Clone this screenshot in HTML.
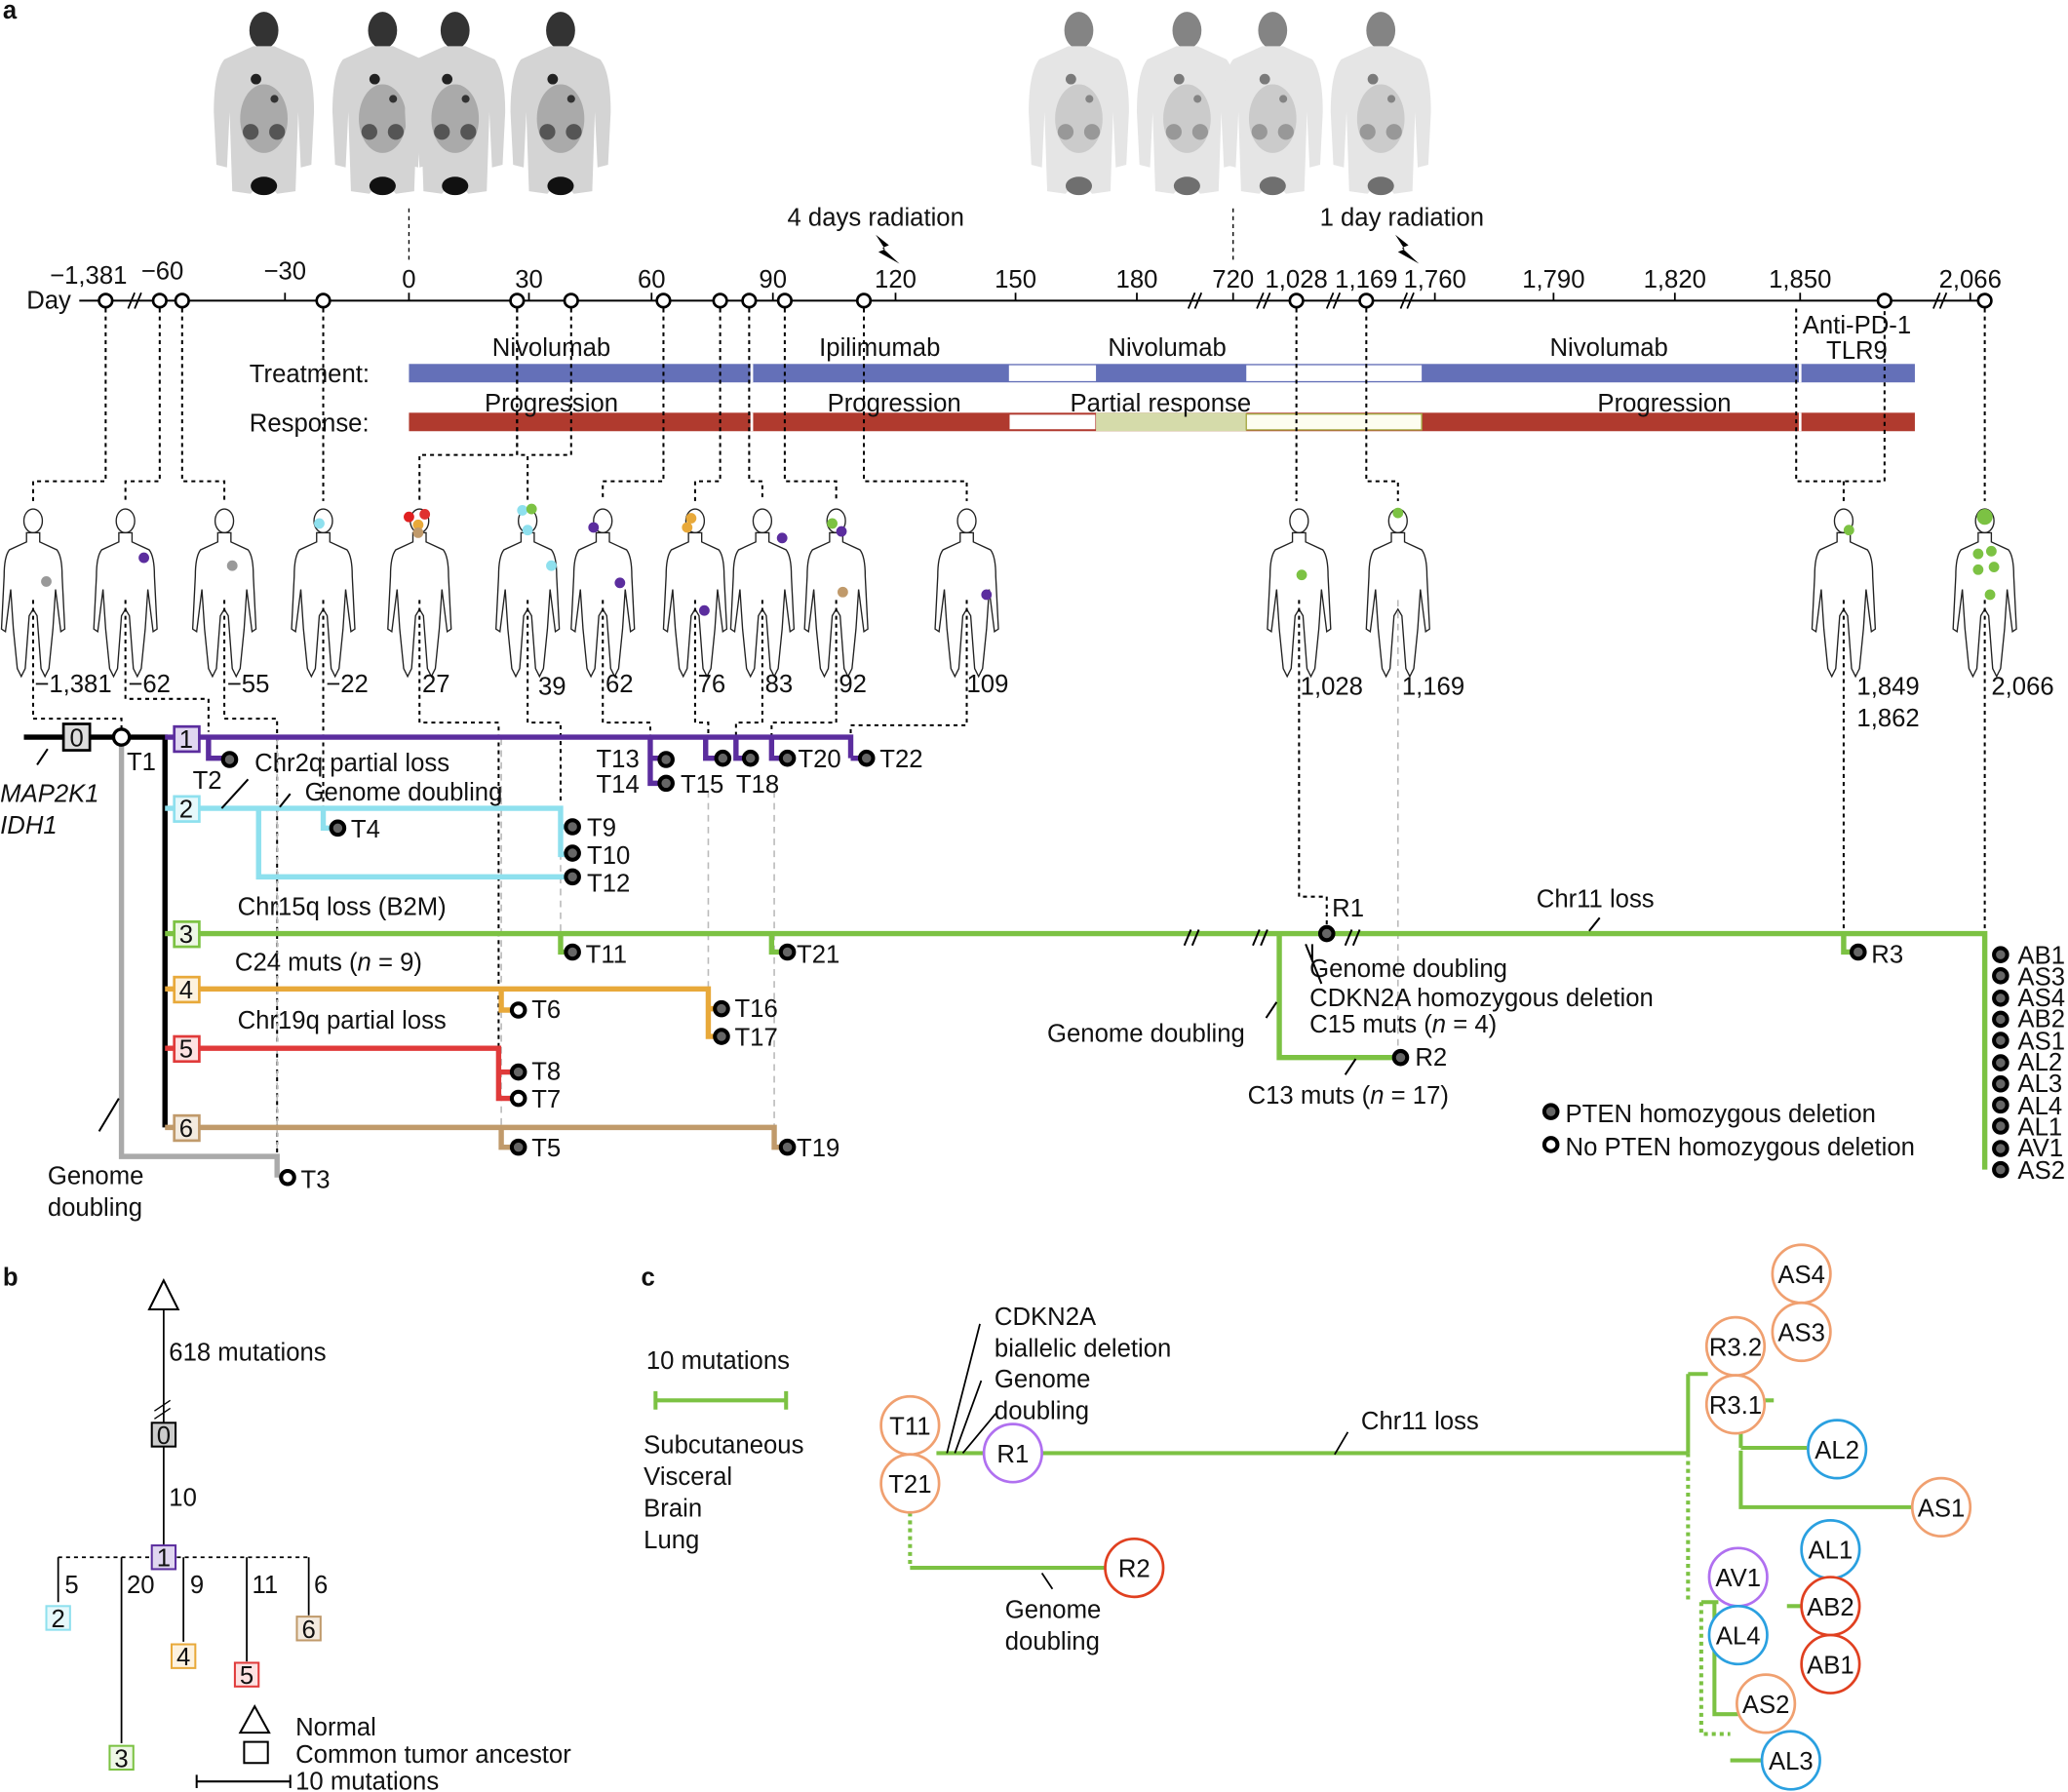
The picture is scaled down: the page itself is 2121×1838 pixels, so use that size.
<!DOCTYPE html>
<html><head><meta charset="utf-8"><style>
html,body{margin:0;padding:0;background:#fff}
svg{display:block}
text{font-family:"Liberation Sans",sans-serif;font-size:19px;fill:#111}
</style></head><body>
<svg width="2121" height="1838" viewBox="0 0 1568 1359" xmlns="http://www.w3.org/2000/svg">
<defs>
<g id="body" fill="#fff" stroke="#222" stroke-width="1">
<ellipse cx="0" cy="-112" rx="7" ry="9"/>
<path d="M-5,-103 L-5,-96 L-18,-90 Q-22,-85 -22,-70 L-24,-30 L-21,-28 L-17,-60 L-15,-30 L-12,0 L-9,6 L-6,0 L-3,-40 L0,-45 L3,-40 L6,0 L9,6 L12,0 L15,-30 L17,-60 L21,-28 L24,-30 L22,-70 Q22,-85 18,-90 L5,-96 L5,-103 Z"/>
</g>
<g id="pet">
<ellipse cx="0" cy="-52" rx="11" ry="14" fill="#333"/>
<path d="M-8,-40 L-30,-30 Q-38,-20 -38,10 L-36,50 L-28,52 L-26,10 L-24,70 L-10,72 L0,60 L10,72 L24,70 L26,10 L28,52 L36,50 L38,10 Q38,-20 30,-30 L8,-40 Z" fill="#d4d4d4"/>
<ellipse cx="0" cy="15" rx="18" ry="26" fill="#aaa"/>
<circle cx="-10" cy="25" r="6" fill="#555"/><circle cx="10" cy="25" r="6" fill="#555"/>
<circle cx="-6" cy="-15" r="4" fill="#222"/><circle cx="8" cy="0" r="3" fill="#333"/>
<ellipse cx="0" cy="66" rx="10" ry="7" fill="#111"/>
</g>
</defs>
<text x="2" y="14" font-weight="bold">a</text>
<g>
<use href="#pet" x="200" y="75"/><use href="#pet" x="290" y="75"/><use href="#pet" x="345" y="75"/><use href="#pet" x="425" y="75"/>
</g>
<g opacity="0.6">
<use href="#pet" x="818" y="75"/><use href="#pet" x="900" y="75"/><use href="#pet" x="965" y="75"/><use href="#pet" x="1047" y="75"/>
</g>
<path d="M310,158 V200 M935,158 V200" stroke="#000" stroke-dasharray="3,3" fill="none"/>
<line x1="60" y1="228" x2="1510" y2="228" stroke="#000" stroke-width="1.5"/>
<g fill="#fff" stroke="#000" stroke-width="2">
<circle cx="80" cy="228" r="5"/><circle cx="121" cy="228" r="5"/><circle cx="138" cy="228" r="5"/><circle cx="245" cy="228" r="5"/><circle cx="392" cy="228" r="5"/><circle cx="433" cy="228" r="5"/><circle cx="503" cy="228" r="5"/><circle cx="546" cy="228" r="5"/><circle cx="568" cy="228" r="5"/><circle cx="595" cy="228" r="5"/><circle cx="655" cy="228" r="5"/><circle cx="983" cy="228" r="5"/><circle cx="1036" cy="228" r="5"/><circle cx="1429" cy="228" r="5"/><circle cx="1505" cy="228" r="5"/>
</g>
<g stroke="#000" stroke-width="1.3" fill="none">
<path d="M97,234 l5,-12 M102,234 l5,-12 M901,234 l5,-12 M906,234 l5,-12 M953,234 l5,-12 M958,234 l5,-12 M1006,234 l5,-12 M1011,234 l5,-12 M1062,234 l5,-12 M1067,234 l5,-12 M1466,234 l5,-12 M1471,234 l5,-12"/>
<path d="M310,228v-6 M401,228v-6 M494,228v-6 M586,228v-6 M679,228v-6 M770,228v-6 M862,228v-6 M935,228v-6 M1088,228v-6 M1178,228v-6 M1270,228v-6 M1365,228v-6 M1494,228v-6 M216,228v-6"/>
</g>
<text x="20" y="234">Day</text>
<g text-anchor="middle">
<text x="67" y="215">−1,381</text><text x="123" y="212">−60</text><text x="216" y="212">−30</text><text x="310" y="218">0</text><text x="401" y="218">30</text><text x="494" y="218">60</text><text x="586" y="218">90</text><text x="679" y="218">120</text><text x="770" y="218">150</text><text x="862" y="218">180</text><text x="935" y="218">720</text><text x="983" y="218">1,028</text><text x="1036" y="218">1,169</text><text x="1088" y="218">1,760</text><text x="1178" y="218">1,790</text><text x="1270" y="218">1,820</text><text x="1365" y="218">1,850</text><text x="1494" y="218">2,066</text>
<text x="664" y="171">4 days radiation</text><text x="1063" y="171">1 day radiation</text>
</g>
<path d="M664,178 l10,8 -5,2 13,12 -16,-9 5,-2 z M1058,178 l10,8 -5,2 13,12 -16,-9 5,-2 z" fill="#000"/>
<text x="189" y="290">Treatment:</text><text x="189" y="327">Response:</text>
<rect x="310" y="276" width="1142" height="14" fill="#6470b8"/>
<rect x="765" y="277" width="66" height="12" fill="#fff"/><rect x="945" y="277" width="133" height="12" fill="#fff"/>
<path d="M570,276v14 M1365,276v14" stroke="#fff" stroke-width="2"/>
<rect x="310" y="313" width="1142" height="14" fill="#b03a2e"/>
<rect x="765" y="314" width="66" height="12" fill="#fff" stroke="#b03a2e"/>
<rect x="831" y="313" width="114" height="14" fill="#d5dbaa"/>
<rect x="945" y="314" width="133" height="12" fill="#fdfdf0" stroke="#a5a842"/>
<path d="M570,313v14 M1365,313v14" stroke="#fff" stroke-width="2"/>
<g text-anchor="middle">
<text x="418" y="270">Nivolumab</text><text x="667" y="270">Ipilimumab</text><text x="885" y="270">Nivolumab</text><text x="1220" y="270">Nivolumab</text><text x="1408" y="253">Anti-PD-1</text><text x="1408" y="272">TLR9</text>
<text x="418" y="312">Progression</text><text x="678" y="312">Progression</text><text x="880" y="312">Partial response</text><text x="1262" y="312">Progression</text>
</g>
<g stroke="#000" stroke-width="1.5" stroke-dasharray="3,3" fill="none">
<path d="M80,234 V365 H25 V380"/><path d="M121,234 V365 H95 V380"/><path d="M138,234 V365 H170 V380"/><path d="M245,234 V380"/>
<path d="M392,234 V345 H318 V380"/><path d="M392,234 V345 H400 V380"/><path d="M433,234 V345 H400"/><path d="M503,234 V365 H457 V380"/><path d="M546,234 V365 H527 V380"/><path d="M568,234 V365 H578 V380"/><path d="M595,234 V365 H634 V380"/><path d="M655,234 V365 H733 V380"/>
<path d="M983,234 V380"/><path d="M1036,234 V365 H1060 V380"/><path d="M1362,234 V365 H1429 V234 M1398,365 V380"/><path d="M1505,234 V380"/>
</g>
<g>
<use href="#body" x="25" y="507"/><use href="#body" x="95" y="507"/><use href="#body" x="170" y="507"/><use href="#body" x="245" y="507"/><use href="#body" x="318" y="507"/><use href="#body" x="400" y="507"/><use href="#body" x="457" y="507"/><use href="#body" x="527" y="507"/><use href="#body" x="578" y="507"/><use href="#body" x="634" y="507"/><use href="#body" x="733" y="507"/><use href="#body" x="985" y="507"/><use href="#body" x="1060" y="507"/><use href="#body" x="1398" y="507"/><use href="#body" x="1505" y="507"/>
</g>
<g>
<circle cx="35" cy="441" r="4" fill="#999"/><circle cx="109" cy="423" r="4" fill="#5b2d9e"/><circle cx="176" cy="429" r="4" fill="#999"/><circle cx="242" cy="397" r="4" fill="#8ee0ee"/>
<circle cx="310" cy="392" r="4" fill="#e02020"/><circle cx="322" cy="390" r="4" fill="#e03030"/><circle cx="317" cy="398" r="4" fill="#e8a93a"/><circle cx="317" cy="404" r="4" fill="#c09a6b"/>
<circle cx="396" cy="387" r="4" fill="#8ee0ee"/><circle cx="403" cy="386" r="4" fill="#7cc243"/><circle cx="400" cy="402" r="4" fill="#8ee0ee"/><circle cx="418" cy="429" r="4" fill="#8ee0ee"/>
<circle cx="450" cy="400" r="4" fill="#5b2d9e"/><circle cx="470" cy="442" r="4" fill="#5b2d9e"/><circle cx="521" cy="400" r="4" fill="#e8a93a"/><circle cx="524" cy="393" r="4" fill="#e8a93a"/><circle cx="534" cy="463" r="4" fill="#5b2d9e"/>
<circle cx="593" cy="408" r="4" fill="#5b2d9e"/><circle cx="631" cy="397" r="4" fill="#7cc243"/><circle cx="638" cy="403" r="4" fill="#5b2d9e"/><circle cx="639" cy="449" r="4" fill="#c09a6b"/><circle cx="748" cy="451" r="4" fill="#5b2d9e"/>
<circle cx="987" cy="436" r="4" fill="#7cc243"/><circle cx="1060" cy="389" r="4" fill="#7cc243"/><circle cx="1402" cy="402" r="4" fill="#7cc243"/>
<circle cx="1505" cy="392" r="6" fill="#7cc243"/><circle cx="1500" cy="420" r="4" fill="#7cc243"/><circle cx="1510" cy="418" r="4" fill="#7cc243"/><circle cx="1500" cy="432" r="4" fill="#7cc243"/><circle cx="1512" cy="430" r="4" fill="#7cc243"/><circle cx="1509" cy="451" r="4" fill="#7cc243"/>
</g>
<g>
<text x="26" y="525">−1,381</text><text x="97" y="525">−62</text><text x="172" y="525">−55</text><text x="247" y="525">−22</text><text x="320" y="525">27</text><text x="408" y="527">39</text><text x="459" y="525">62</text><text x="529" y="525">76</text><text x="580" y="525">83</text><text x="636" y="525">92</text><text x="733" y="525">109</text><text x="986" y="527">1,028</text><text x="1063" y="527">1,169</text><text x="1408" y="527">1,849</text><text x="1408" y="551">1,862</text><text x="1510" y="527">2,066</text>
</g>
<g stroke="#000" stroke-width="1.5" stroke-dasharray="3,3" fill="none">
<path d="M25,455 V545 H92 V555"/><path d="M95,455 V530 H158 V555"/><path d="M170,455 V545 H210 V880"/><path d="M245,455 V613"/>
<path d="M318,455 V548 H378 V795"/><path d="M400,455 V548 H425 V610"/><path d="M457,455 V548 H493 V560"/><path d="M527,455 V548 H537 V560"/><path d="M578,455 V548 H558 V560"/><path d="M634,455 V548 H585 V560"/><path d="M733,455 V550 H645 V560"/>
<path d="M985,455 V680 H1006 V705"/><path d="M1398,455 V705"/><path d="M1505,455 V705"/>
</g>
<g stroke="#bbb" stroke-width="1.2" stroke-dasharray="5,4" fill="none">
<path d="M380,560 V860"/><path d="M425,620 V720"/><path d="M537,600 V750"/><path d="M587,600 V855"/><path d="M1060,455 V800"/><path d="M210,560 V880"/>
</g>
<g fill="none" stroke-width="4">
<path d="M18,559 H125 V855" stroke="#000"/>
<path d="M92,559 V877 H210 V893" stroke="#aaa"/>
<path d="M125,559 H645 V575 M158,559 V575 H170 M493,559 V594 H500 M493,575 H500 M535,559 V575 H544 M558,559 V575 H565 M585,559 V575 H593 M645,575 H652" stroke="#5b2d9e"/>
<path d="M125,613 H425 V648 H430 M425,627 H430 M196,613 V665 H430 M245,613 V628 H252" stroke="#8ee0ee"/>
<path d="M125,708 H1505 V887 M425,708 V722 H430 M585,708 V722 H593 M970,708 V802 H1058 M1398,708 V722 H1405" stroke="#7cc243"/>
<path d="M125,750 H537 V786 H544 M537,765 H544 M380,750 V766 H389" stroke="#e8a93a"/>
<path d="M125,795 H378 V833 H389 M378,813 H389" stroke="#e03a3a"/>
<path d="M125,855 H587 V870 H594 M380,855 V870 H389" stroke="#c09a6b"/>
</g>
<rect x="48" y="549" width="20" height="20" fill="#ddd" stroke="#000" stroke-width="2"/><text x="58" y="566" text-anchor="middle">0</text>
<circle cx="92" cy="559" r="6" fill="#fff" stroke="#000" stroke-width="2.5"/>
<g stroke-width="2">
<rect x="132" y="551" width="19" height="19" fill="#e0d6f0" stroke="#5b2d9e"/><rect x="132" y="604" width="19" height="19" fill="#e6f8fb" stroke="#8ee0ee"/><rect x="132" y="699" width="19" height="19" fill="#eef7e6" stroke="#7cc243"/><rect x="132" y="741" width="19" height="19" fill="#fdf2df" stroke="#e8a93a"/><rect x="132" y="786" width="19" height="19" fill="#fde2e2" stroke="#e03a3a"/><rect x="132" y="846" width="19" height="19" fill="#f3ebe0" stroke="#c09a6b"/>
</g>
<g text-anchor="middle"><text x="141" y="567">1</text><text x="141" y="620">2</text><text x="141" y="715">3</text><text x="141" y="757">4</text><text x="141" y="802">5</text><text x="141" y="862">6</text></g>
<g fill="#666" stroke="#000" stroke-width="3">
<circle cx="174" cy="576" r="5"/><circle cx="505" cy="576" r="5"/><circle cx="505" cy="594" r="5"/><circle cx="548" cy="575" r="5"/><circle cx="569" cy="575" r="5"/><circle cx="597" cy="575" r="5"/><circle cx="657" cy="575" r="5"/>
<circle cx="256" cy="628" r="5"/><circle cx="434" cy="627" r="5"/><circle cx="434" cy="647" r="5"/><circle cx="434" cy="665" r="5"/>
<circle cx="434" cy="722" r="5"/><circle cx="597" cy="722" r="5"/><circle cx="1006" cy="708" r="5"/><circle cx="1062" cy="802" r="5"/><circle cx="1409" cy="722" r="5"/>
<circle cx="547" cy="765" r="5"/><circle cx="547" cy="786" r="5"/><circle cx="393" cy="813" r="5"/><circle cx="393" cy="870" r="5"/><circle cx="597" cy="870" r="5"/>
<circle cx="1176" cy="843" r="5"/>
<circle cx="1517" cy="724" r="5"/><circle cx="1517" cy="740" r="5"/><circle cx="1517" cy="757" r="5"/><circle cx="1517" cy="773" r="5"/><circle cx="1517" cy="789" r="5"/><circle cx="1517" cy="806" r="5"/><circle cx="1517" cy="822" r="5"/><circle cx="1517" cy="838" r="5"/><circle cx="1517" cy="854" r="5"/><circle cx="1517" cy="871" r="5"/><circle cx="1517" cy="887" r="5"/>
</g>
<g fill="#fff" stroke="#000" stroke-width="3">
<circle cx="218" cy="893" r="5"/><circle cx="393" cy="766" r="5"/><circle cx="393" cy="833" r="5"/><circle cx="1176" cy="868" r="5"/>
</g>
<g>
<text x="96" y="584">T1</text><text x="146" y="598">T2</text><text x="193" y="585">Chr2q partial loss</text><text x="231" y="607">Genome doubling</text><text x="266" y="635">T4</text>
<text x="452" y="582">T13</text><text x="452" y="601">T14</text><text x="516" y="601">T15</text><text x="558" y="601">T18</text><text x="605" y="582">T20</text><text x="667" y="582">T22</text>
<text x="445" y="634">T9</text><text x="445" y="655">T10</text><text x="445" y="676">T12</text>
<text x="180" y="694">Chr15q loss (B2M)</text><text x="444" y="730">T11</text><text x="604" y="730">T21</text>
<text x="178" y="736">C24 muts (<tspan font-style="italic">n</tspan> = 9)</text><text x="403" y="772">T6</text><text x="557" y="771">T16</text><text x="557" y="793">T17</text>
<text x="180" y="780">Chr19q partial loss</text><text x="403" y="819">T8</text><text x="403" y="840">T7</text><text x="403" y="877">T5</text><text x="604" y="877">T19</text><text x="228" y="901">T3</text>
<text x="0" y="608" font-style="italic">MAP2K1</text><text x="0" y="632" font-style="italic">IDH1</text>
<text x="36" y="898">Genome</text><text x="36" y="922">doubling</text>
<text x="1010" y="695">R1</text><text x="1165" y="688">Chr11 loss</text><text x="993" y="741">Genome doubling</text><text x="993" y="763">CDKN2A homozygous deletion</text><text x="993" y="783">C15 muts (<tspan font-style="italic">n</tspan> = 4)</text>
<text x="794" y="790">Genome doubling</text><text x="1073" y="808">R2</text><text x="946" y="837">C13 muts (<tspan font-style="italic">n</tspan> = 17)</text><text x="1419" y="730">R3</text>
<text x="1187" y="851">PTEN homozygous deletion</text><text x="1187" y="876">No PTEN homozygous deletion</text>
<g font-size="17"><text x="1530" y="731">AB1</text><text x="1530" y="747">AS3</text><text x="1530" y="763">AS4</text><text x="1530" y="779">AB2</text><text x="1530" y="796">AS1</text><text x="1530" y="812">AL2</text><text x="1530" y="828">AL3</text><text x="1530" y="845">AL4</text><text x="1530" y="861">AL1</text><text x="1530" y="877">AV1</text><text x="1530" y="894">AS2</text></g>
</g>
<g stroke="#000" stroke-width="1.5">
<path d="M28,580 l8,-12 M168,613 l20,-22 M212,612 l8,-10 M898,717 l5,-12 M904,717 l5,-12 M950,717 l5,-12 M956,717 l5,-12 M1020,717 l5,-12 M1026,717 l5,-12 M1205,706 l8,-10 M990,716 l12,30 M995,716 l0,12 M960,772 l8,-12 M1020,815 l8,-12 M75,858 l15,-25"/>
</g>
<text x="2" y="975" font-weight="bold">b</text>
<path d="M124,971 l-11,22 h22 z" fill="#fff" stroke="#000" stroke-width="1.5"/>
<line x1="124" y1="993" x2="124" y2="1172" stroke="#000" stroke-width="1.3"/>
<path d="M117,1070 l12,-8 M117,1076 l12,-8" stroke="#000"/>
<rect x="115" y="1079" width="18" height="18" fill="#ccc" stroke="#000" stroke-width="1.5"/><text x="124" y="1095" text-anchor="middle">0</text>
<text x="128" y="1032">618 mutations</text><text x="128" y="1142">10</text>
<path d="M44,1181 H234" stroke="#000" stroke-dasharray="3,3" stroke-width="1.3"/>
<g stroke="#000" stroke-width="1.3"><path d="M44,1181 V1215 M92,1181 V1322 M139,1181 V1245 M187,1181 V1260 M234,1181 V1225"/></g>
<rect x="115" y="1172" width="18" height="18" fill="#e0d6f0" stroke="#5b2d9e" stroke-width="1.5"/><text x="124" y="1188" text-anchor="middle">1</text>
<g stroke-width="1.5"><rect x="35" y="1218" width="18" height="18" fill="#e6f8fb" stroke="#8ee0ee"/><rect x="83" y="1324" width="18" height="18" fill="#eef7e6" stroke="#7cc243"/><rect x="130" y="1247" width="18" height="18" fill="#fdf2df" stroke="#e8a93a"/><rect x="178" y="1261" width="18" height="18" fill="#fde2e2" stroke="#e03a3a"/><rect x="225" y="1226" width="18" height="18" fill="#f3ebe0" stroke="#c09a6b"/></g>
<g text-anchor="middle"><text x="44" y="1234">2</text><text x="92" y="1340">3</text><text x="139" y="1263">4</text><text x="187" y="1277">5</text><text x="234" y="1242">6</text></g>
<text x="49" y="1208">5</text><text x="96" y="1208">20</text><text x="144" y="1208">9</text><text x="191" y="1208">11</text><text x="238" y="1208">6</text>
<path d="M193,1294 l-11,20 h22 z" fill="#fff" stroke="#000" stroke-width="1.5"/><rect x="185" y="1321" width="18" height="16" fill="#fff" stroke="#000" stroke-width="1.5"/>
<text x="224" y="1316">Normal</text><text x="224" y="1337">Common tumor ancestor</text><text x="224" y="1357">10 mutations</text>
<path d="M149,1351 H220 M149,1346 V1356 M220,1346 V1356" stroke="#000" stroke-width="1.5"/>
<text x="486" y="975" font-weight="bold">c</text>
<text x="490" y="1038">10 mutations</text>
<path d="M497,1062 H596 M497,1055 V1069 M596,1055 V1069" stroke="#7cc243" stroke-width="3"/>
<text x="488" y="1102">Subcutaneous</text><text x="488" y="1126">Visceral</text><text x="488" y="1150">Brain</text><text x="488" y="1174">Lung</text>
<g fill="none" stroke="#7cc243" stroke-width="3">
<path d="M710,1102 H1280 M1280,1042 V1102 M1280,1042 H1295 M1320,1062 V1098 M1320,1098 H1370 M1320,1100 V1143 H1452 M1320,1062 H1345"/>
<path d="M690,1189 H838"/>
<path d="M1290,1215 H1303 M1300,1215 V1300 H1320 M1312,1335 H1337 M1355,1218 H1368"/>
</g>
<g fill="none" stroke="#7cc243" stroke-width="3" stroke-dasharray="3,3">
<path d="M690,1147 V1189 M1280,1102 V1215 M1290,1215 V1315 H1312 M1320,1000 V1042"/>
</g>
<g stroke="#000" stroke-width="1.3"><path d="M718,1102 l25,-98 M724,1102 l20,-55 M730,1102 l25,-30 M1012,1103 l10,-17 M790,1193 l8,12"/></g>
<text x="754" y="1005">CDKN2A</text><text x="754" y="1029">biallelic deletion</text><text x="754" y="1052">Genome</text><text x="754" y="1076">doubling</text>
<text x="1032" y="1084">Chr11 loss</text><text x="762" y="1227">Genome</text><text x="762" y="1251">doubling</text>
<g fill="#fff" stroke-width="2">
<circle cx="690" cy="1081" r="22" stroke="#f0a070"/><circle cx="690" cy="1125" r="22" stroke="#f0a070"/><circle cx="768" cy="1102" r="22" stroke="#b070f0"/><circle cx="860" cy="1189" r="22" stroke="#e04020"/>
<circle cx="1366" cy="966" r="22" stroke="#f0a070"/><circle cx="1366" cy="1010" r="22" stroke="#f0a070"/><circle cx="1316" cy="1021" r="22" stroke="#f0a070"/><circle cx="1316" cy="1065" r="22" stroke="#f0a070"/><circle cx="1393" cy="1099" r="22" stroke="#2aa0e0"/><circle cx="1472" cy="1143" r="22" stroke="#f0a070"/>
<circle cx="1388" cy="1175" r="22" stroke="#2aa0e0"/><circle cx="1318" cy="1196" r="22" stroke="#b070f0"/><circle cx="1388" cy="1218" r="22" stroke="#e04020"/><circle cx="1318" cy="1240" r="22" stroke="#2aa0e0"/><circle cx="1388" cy="1262" r="22" stroke="#e04020"/><circle cx="1339" cy="1292" r="22" stroke="#f0a070"/><circle cx="1358" cy="1335" r="22" stroke="#2aa0e0"/>
</g>
<g text-anchor="middle">
<text x="690" y="1088">T11</text><text x="690" y="1132">T21</text><text x="768" y="1109">R1</text><text x="860" y="1196">R2</text>
<text x="1366" y="973">AS4</text><text x="1366" y="1017">AS3</text><text x="1316" y="1028">R3.2</text><text x="1316" y="1072">R3.1</text><text x="1393" y="1106">AL2</text><text x="1472" y="1150">AS1</text>
<text x="1388" y="1182">AL1</text><text x="1318" y="1203">AV1</text><text x="1388" y="1225">AB2</text><text x="1318" y="1247">AL4</text><text x="1388" y="1269">AB1</text><text x="1339" y="1299">AS2</text><text x="1358" y="1342">AL3</text>
</g>
</svg>
</body></html>
